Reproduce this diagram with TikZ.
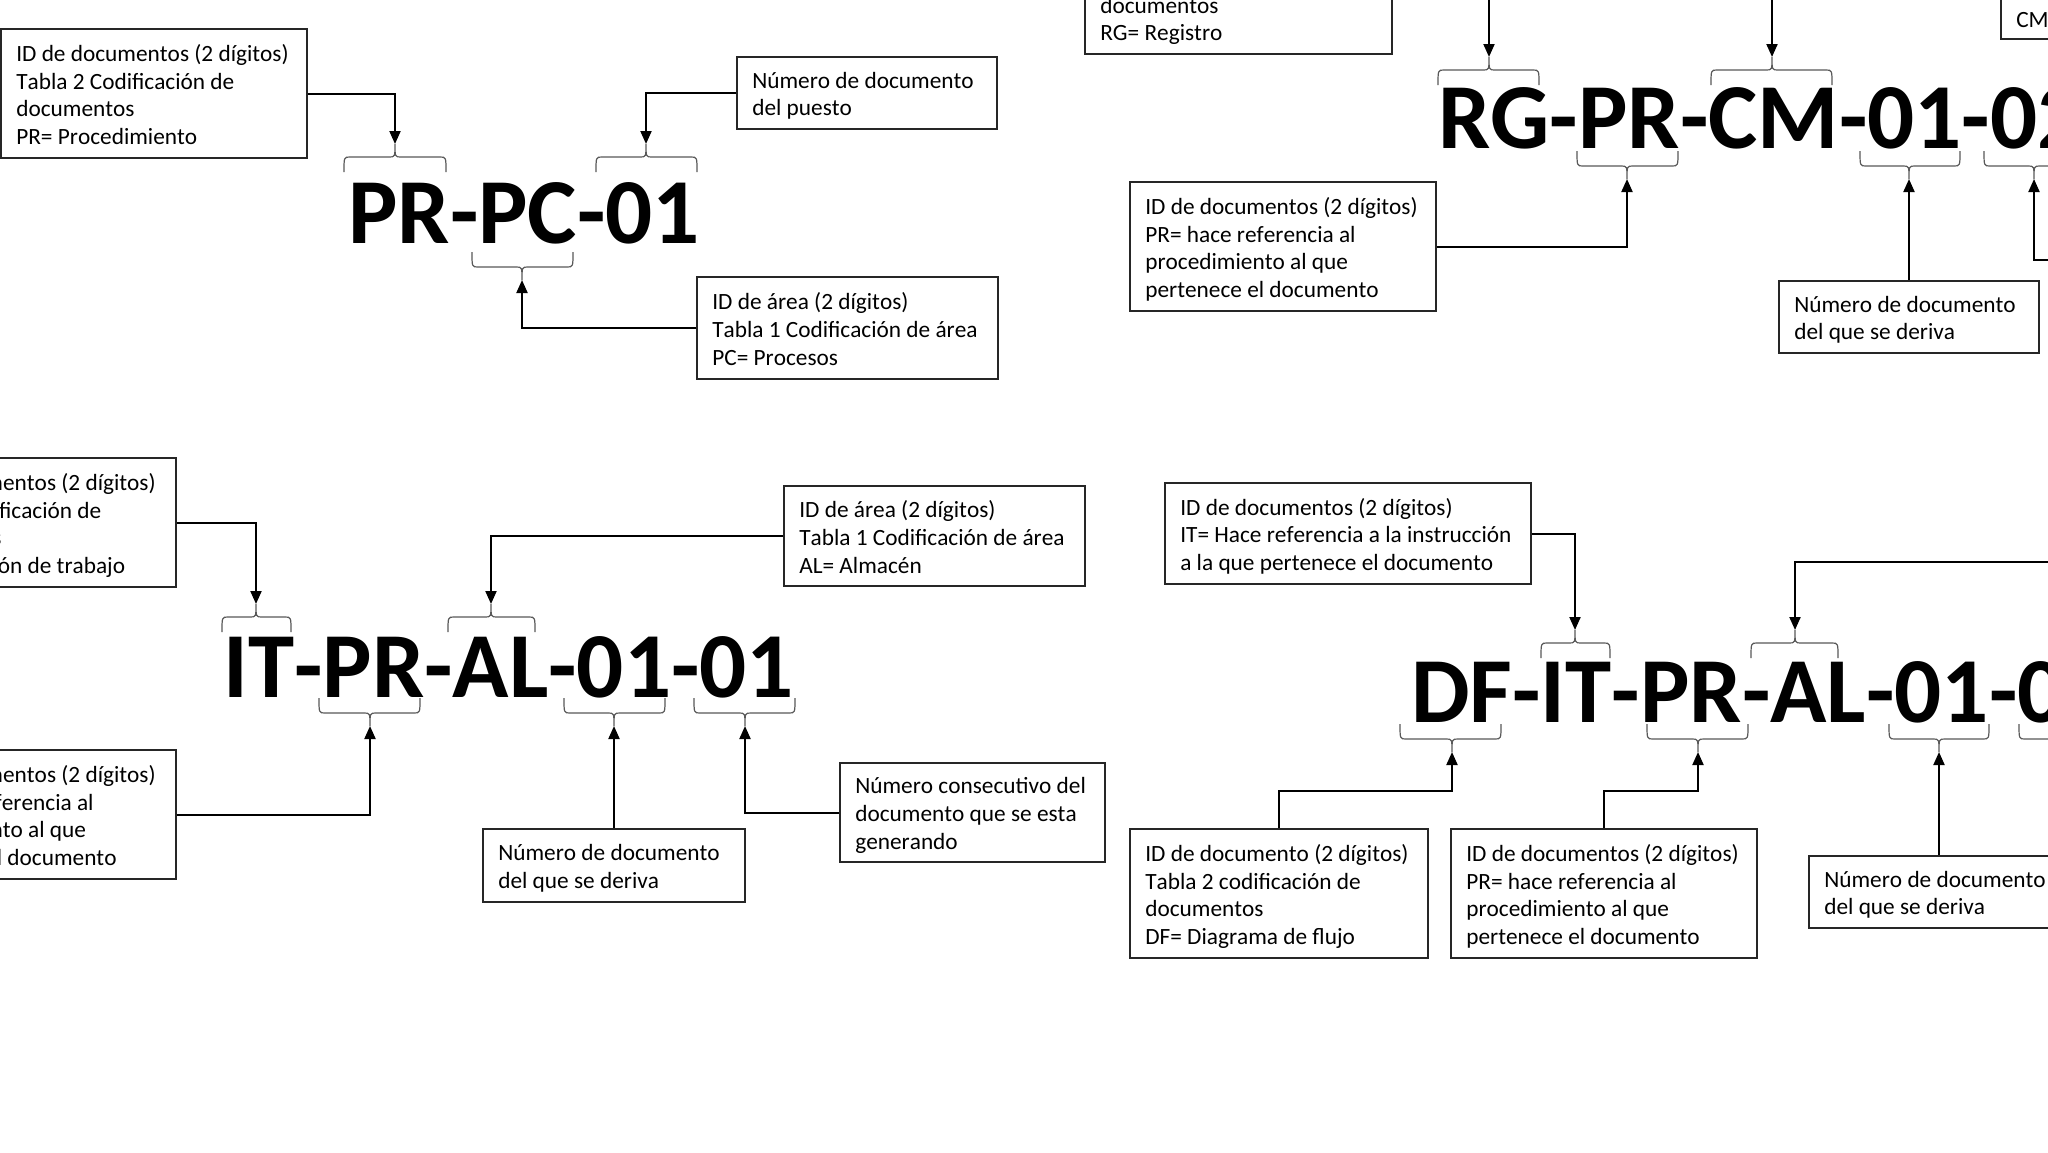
\documentclass[tikz,border=0pt]{standalone}
\usepackage{fontspec}
\setmainfont{Carlito}[Kerning=Off]
\usetikzlibrary{arrows.meta,calc}
\tikzset{
  box/.style={draw=black!85, line width=1.8pt, fill=white, inner sep=0pt},
  txt/.style={anchor=west, inner sep=0pt, align=left, text=black,
    font=\fontsize{23.3}{27.7}\selectfont,
    execute at begin node=\strut, execute at end node=\strut},
  conn/.style={line width=2pt, draw=black, -{Triangle[length=13pt,width=11pt]}},
  brc/.style={line width=1.2pt, draw=black!65},
  code/.style={font=\bfseries\fontsize{93}{100}\selectfont, inner sep=0pt, anchor=base west, text=black},
}
\newcommand\BrUp[4]{\draw[brc] (#1,#4+15) .. controls (#1,#4) .. (#1+6,#4) -- (#3-6,#4) .. controls (#3,#4) .. (#3,#4-13) .. controls (#3,#4) .. (#3+6,#4) -- (#2-6,#4) .. controls (#2,#4) .. (#2,#4+15);}
\newcommand\BrDn[4]{\draw[brc] (#1,#4-15) .. controls (#1,#4) .. (#1+6,#4) -- (#3-6,#4) .. controls (#3,#4) .. (#3,#4+13) .. controls (#3,#4) .. (#3+6,#4) -- (#2-6,#4) .. controls (#2,#4) .. (#2,#4-15);}
% name, cx, cy, width, height, text
\newcommand\mkbox[6]{%
  \node[box, minimum width=#4pt, minimum height=#5pt] (#1) at (#2,#3) {};
  \node[txt] (#1t) at ($(#1.west)+(16,5)$) {#6};}
\begin{document}
\begin{tikzpicture}[x=1pt,y=-1pt]
\useasboundingbox (0,0) rectangle (2048,1152);
\clip (0,0) rectangle (2048,1152);
\fill[white] (0,0) rectangle (2048,1152);

% ---------------- Panel 1: PR-PC-01
\node[code] (c1) at (348,243) {PR-PC-01};
\BrUp{344}{446}{395}{157}
\BrUp{596}{697}{646}{157}
\BrDn{472}{573}{522}{267}
\coordinate (p1a) at (395,144);
\coordinate (p1b) at (646,144);
\coordinate (p1c) at (522,280);
\mkbox{A}{154}{93.5}{306}{129}{ID de documentos (2 dígitos)\\Tabla 2 Codificación de\\documentos\\PR= Procedimiento}
\mkbox{B}{867}{93}{260}{72}{Número de documento\\del puesto}
\mkbox{C}{847.5}{328}{301}{102}{ID de área (2 dígitos)\\Tabla 1 Codificación de área\\PC= Procesos}
\draw[conn] (A.east) -| (p1a);
\draw[conn] (B.west) -| (p1b);
\draw[conn] (C.west) -| (p1c);

% ---------------- Panel 2: RG-PR-CM-01-02
\node[code] (c2) at (1438,148) {RG-PR-CM-01-02};
\BrUp{1438}{1539}{1489}{70}
\BrUp{1711}{1832}{1772}{70}
\BrDn{1577}{1678}{1627}{166}
\BrDn{1860}{1960}{1909}{166}
\BrDn{1984}{2085}{2034}{166}
\coordinate (p2a) at (1489,57);
\coordinate (p2b) at (1772,57);
\coordinate (p2c) at (1627,179);
\coordinate (p2d) at (1909,179);
\coordinate (p2e) at (2034,179);
\mkbox{D}{1238.5}{18}{307}{72}{documentos\\RG= Registro}
\mkbox{E}{2131}{17}{260}{44}{CM}
\mkbox{F}{1283}{246.5}{306}{129}{ID de documentos (2 dígitos)\\PR= hace referencia al\\procedimiento al que\\pertenece el documento}
\mkbox{G}{1909}{317}{260}{72}{Número de documento\\del que se deriva}
\coordinate (d0) at (1489,-30);
\coordinate (e0) at (1772,-30);
\coordinate (h0) at (2080,260);
\draw[conn] (d0) -- (p2a);
\draw[conn] (e0) -- (p2b);
\draw[conn] (F.east) -| (p2c);
\draw[conn] (G.north) -- (p2d);
\draw[conn] (h0) -| (p2e);

% ---------------- Panel 3: IT-PR-AL-01-01
\node[code] (c3) at (223,697) {IT-PR-AL-01-01};
\BrUp{222}{291}{256}{617}
\BrUp{448}{535}{491}{617}
\BrDn{319}{420}{370}{713}
\BrDn{564}{665}{614}{713}
\BrDn{694}{795}{745}{713}
\coordinate (p3a) at (256,604);
\coordinate (p3b) at (491,604);
\coordinate (p3c) at (370,726);
\coordinate (p3d) at (614,726);
\coordinate (p3e) at (745,726);
\mkbox{I}{22}{522.5}{308}{129}{ID de documentos (2 dígitos)\\Tabla 2 Codificación de\\documentos\\IT= Instrucción de trabajo}
\mkbox{J}{934.5}{536}{301}{100}{ID de área (2 dígitos)\\Tabla 1 Codificación de área\\AL= Almacén}
\mkbox{K}{22}{814.5}{308}{129}{ID de documentos (2 dígitos)\\PR= hace referencia al\\procedimiento al que\\pertenece el documento}
\mkbox{L}{614}{865.5}{262}{73}{Número de documento\\del que se deriva}
\mkbox{M}{972.5}{812.5}{265}{99}{Número consecutivo del\\documento que se esta\\generando}
\draw[conn] (I.east) -| (p3a);
\draw[conn] (J.west) -| (p3b);
\draw[conn] (K.east) -| (p3c);
\draw[conn] (L.north) -- (p3d);
\draw[conn] (M.west) -| (p3e);

% ---------------- Panel 4: DF-IT-PR-AL-01-01
\node[code] (c4) at (1411,722) {DF-IT-PR-AL-01-01};
\BrUp{1541}{1610}{1575}{643}
\BrUp{1751}{1838}{1795}{643}
\BrDn{1400}{1501}{1452}{739}
\BrDn{1647}{1748}{1698}{739}
\BrDn{1889}{1989}{1939}{739}
\BrDn{2019}{2120}{2069}{739}
\coordinate (p4a) at (1575,630);
\coordinate (p4b) at (1795,630);
\coordinate (p4c) at (1452,752);
\coordinate (p4d) at (1698,752);
\coordinate (p4e) at (1939,752);
\mkbox{N}{1348}{533.5}{366}{101}{ID de documentos (2 dígitos)\\IT= Hace referencia a la instrucción\\a la que pertenece el documento}
\mkbox{O}{1279}{893.5}{298}{129}{ID de documento (2 dígitos)\\Tabla 2 codificación de\\documentos\\DF= Diagrama de flujo}
\mkbox{P}{1604}{893.5}{306}{129}{ID de documentos (2 dígitos)\\PR= hace referencia al\\procedimiento al que\\pertenece el documento}
\mkbox{Q}{1939}{892}{260}{72}{Número de documento\\del que se deriva}
\coordinate (r0) at (2080,562);
\draw[conn] (N.east) -| (p4a);
\draw[conn] (r0) -| (p4b);
\draw[conn] (O.north) -- ++(0,-37) -| (p4c);
\draw[conn] (P.north) -- ++(0,-37) -| (p4d);
\draw[conn] (Q.north) -- (p4e);
\end{tikzpicture}
\end{document}
